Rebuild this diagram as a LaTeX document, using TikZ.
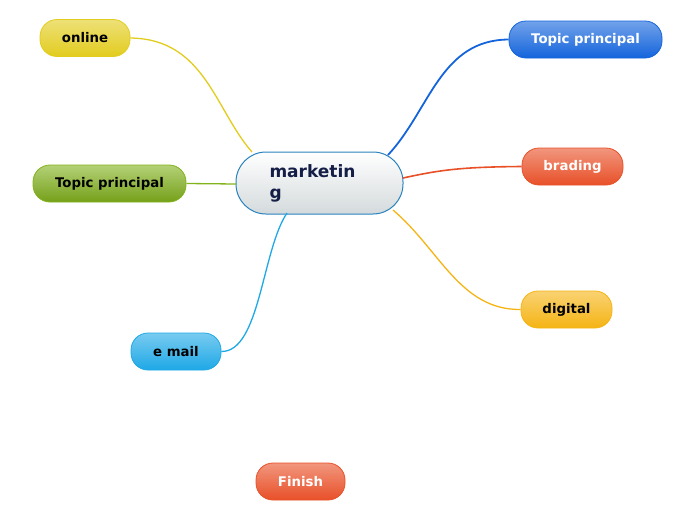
\documentclass[tikz,border=0pt]{standalone}
\usepackage{fontspec}
\setmainfont{DejaVu Sans}
\begin{document}
\begin{tikzpicture}[x=1pt,y=-1pt,
 leaf/.style={rounded corners=17pt,minimum height=37pt,font=\bfseries\fontsize{13.3}{15}\selectfont,inner xsep=4pt,line width=0.8pt},
 conn/.style={line width=1.3pt}]
\useasboundingbox (0,0) rectangle (696,520);
\definecolor{cyel}{RGB}{226,204,30}
\definecolor{cgrn}{RGB}{130,178,28}
\definecolor{ccya}{RGB}{30,168,230}
\definecolor{cred}{RGB}{232,80,40}
\definecolor{cblu}{RGB}{20,100,220}
\definecolor{corg}{RGB}{245,180,20}
\node[rounded corners=30pt,minimum width=167pt,minimum height=62pt,draw={rgb,255:red,40;green,130;blue,190},line width=1pt,top color=white,bottom color={rgb,255:red,212;green,218;blue,220}] (c) at (319.5,183) {};
\node[anchor=west,align=left,font=\bfseries\fontsize{17}{21}\selectfont,text={rgb,255:red,20;green,30;blue,70}] (ct) at (266,183) {marketin\\g};
\node[leaf,minimum width=90pt,draw=cyel,top color=cyel!60,bottom color=cyel] (on) at (85,38) {online};
\node[leaf,minimum width=153pt,draw=cgrn,top color=cgrn!60,bottom color=cgrn!90!black] (tg) at (109.5,183.5) {Topic principal};
\node[leaf,minimum width=90pt,draw=ccya,top color=ccya!60,bottom color=ccya] (em) at (176,351.5) {e mail};
\node[leaf,minimum width=89pt,draw=cred,top color=cred!60,bottom color=cred,text=white] (fi) at (300.5,481.5) {Finish};
\node[leaf,minimum width=153pt,draw=cblu,top color=cblu!60,bottom color=cblu,text=white] (tb) at (585.5,39.5) {Topic principal};
\node[leaf,minimum width=101pt,draw=cred,top color=cred!60,bottom color=cred,text=white] (br) at (572.5,166.5) {brading};
\node[leaf,minimum width=91pt,draw=corg,top color=corg!60,bottom color=corg] (di) at (566.5,309.5) {digital};
\draw[conn,cyel] (on.east) .. controls (205,39) and (215,110) .. (252,152);
\draw[conn,cgrn] (tg.east) -- (236,184);
\draw[conn,ccya] (em.east) .. controls (260,352) and (262,250) .. (287,213);
\draw[conn,cblu,line width=1.8pt] (tb.west) .. controls (440,40) and (430,110) .. (388,155);
\draw[conn,cred,line width=1.6pt] (br.west) .. controls (460,167) and (440,170) .. (403,178);
\draw[conn,corg] (di.west) .. controls (460,310) and (440,250) .. (393,210);
\end{tikzpicture}
\end{document}
